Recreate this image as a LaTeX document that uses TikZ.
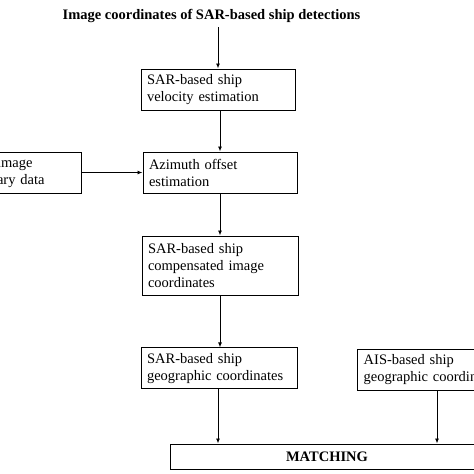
\documentclass[tikz,border=0pt]{standalone}
\usepackage{fontspec}
\setmainfont{Liberation Serif}
\usetikzlibrary{arrows.meta}
\tikzset{
  box/.style={draw, line width=1pt, inner xsep=6pt, inner ysep=0pt, align=left,
    font=\fontsize{14.5}{17}\selectfont},
  flow/.style={line width=0.9pt, -{Latex[length=5pt,width=4pt]}}
}
\begin{document}
\begin{tikzpicture}[x=1pt,y=-1pt]
\useasboundingbox (0,0) rectangle (474,474);
\clip (0,0) rectangle (474,474);
\node[font=\fontsize{14.5}{17}\selectfont\bfseries, anchor=base] (title) at (211.5,19.5)
  {Image coordinates of SAR-based ship detections};
\node[box, text width=142pt, minimum height=41pt] (vel) at (218,89.5)
  {SAR-based ship\\velocity estimation};
\node[box, text width=142pt, minimum height=41pt] (azi) at (220,172.5)
  {Azimuth offset\\estimation};
\node[box, text width=111pt, minimum height=41pt] (aux) at (19.5,172.5)
  {\phantom{SAR }image\\\phantom{auxili}ary data};
\node[box, text width=144pt, minimum height=59pt] (comp) at (220,265.5)
  {SAR-based ship\\compensated image\\coordinates};
\node[box, text width=144.7pt, minimum height=41pt] (geo) at (219.4,368.4)
  {SAR-based ship\\geographic coordinates};
\node[box, text width=146.6pt, minimum height=41pt] (ais) at (437,369.5)
  {AIS-based ship\\geographic coordin};
\node[box, text width=302pt, minimum height=25pt, align=center,
  font=\fontsize{14.5}{17}\selectfont\bfseries] (match) at (327,456.5) {MATCHING};
\draw[flow] (vel.north |- 0,27) -- (vel.north);
\draw[flow] (vel.south -| azi.north) -- (azi.north);
\draw[flow] (aux.east) -- (azi.west);
\draw[flow] (azi.south) -- (comp.north);
\draw[flow] (comp.south) -- (geo.north -| comp.south);
\draw[flow] (geo.south -| 218,0) -- (218,0 |- match.north);
\draw[flow] (ais.south) -- (ais.south |- match.north);
\end{tikzpicture}
\end{document}
